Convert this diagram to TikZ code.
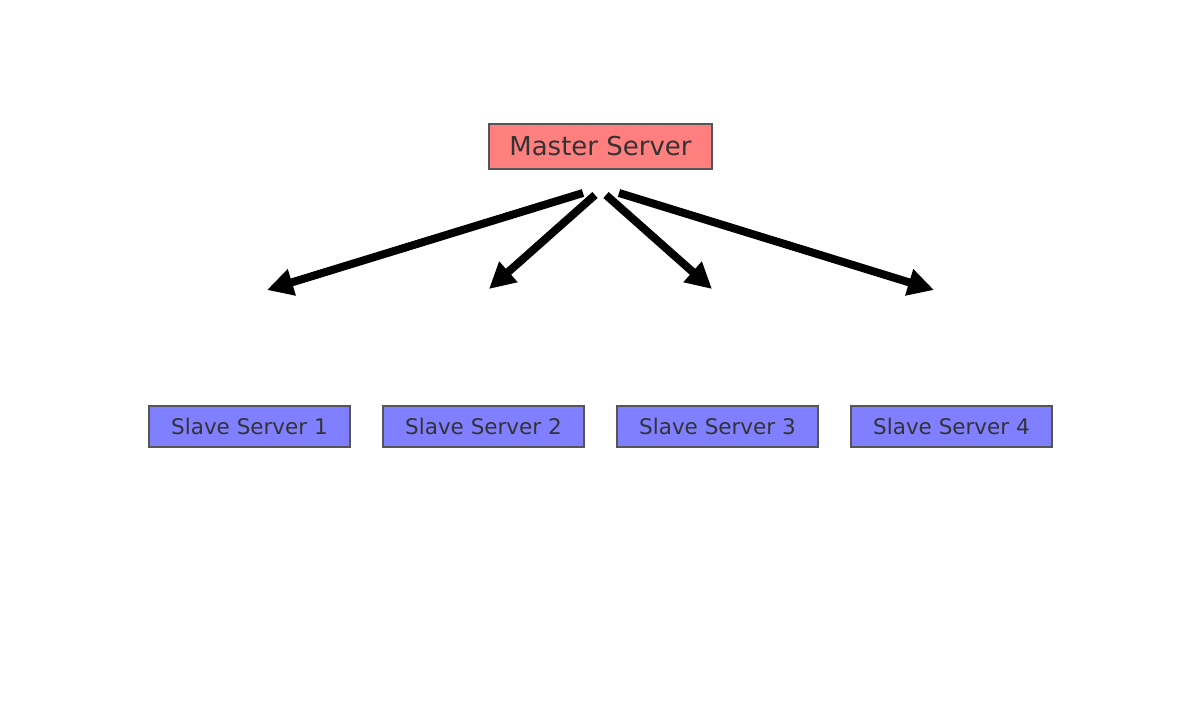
\documentclass[tikz,border=0pt]{standalone}
\usepackage{fontspec}
\setmainfont{DejaVu Sans}
\usetikzlibrary{arrows.meta}
\definecolor{redf}{HTML}{FF7F7F}
\definecolor{bluef}{HTML}{7F7FFF}
\definecolor{edge}{HTML}{555555}
\definecolor{txt}{HTML}{333333}
\begin{document}
\begin{tikzpicture}[x=1pt,y=-1pt,
  box/.style={draw=edge,line width=1.5pt,text=txt,inner sep=0pt,anchor=center},
  arr/.style={line width=8pt,-{Triangle[length=26pt,width=26pt]}}]
\useasboundingbox (0,0) rectangle (1200,728);
\node[box,fill=redf,minimum width=223pt,minimum height=45pt,font=\fontsize{26}{30}\selectfont] (m) at (600.5,146.5) {Master Server};
\foreach \i/\x in {1/249.5,2/483.5,3/717.5,4/951.5}{
  \node[box,fill=bluef,minimum width=201pt,minimum height=41pt,font=\fontsize{21.5}{26}\selectfont] (s\i) at (\x,426.5) {Slave Server \i};
}
\coordinate (a1) at (583,193); \coordinate (b1) at (267,290);
\coordinate (a2) at (595,195); \coordinate (b2) at (489,289);
\coordinate (a3) at (606,195); \coordinate (b3) at (712,289);
\coordinate (a4) at (619,193); \coordinate (b4) at (934,290);
\foreach \i in {1,...,4}{\draw[arr] (a\i) -- (b\i);}
\end{tikzpicture}
\end{document}
